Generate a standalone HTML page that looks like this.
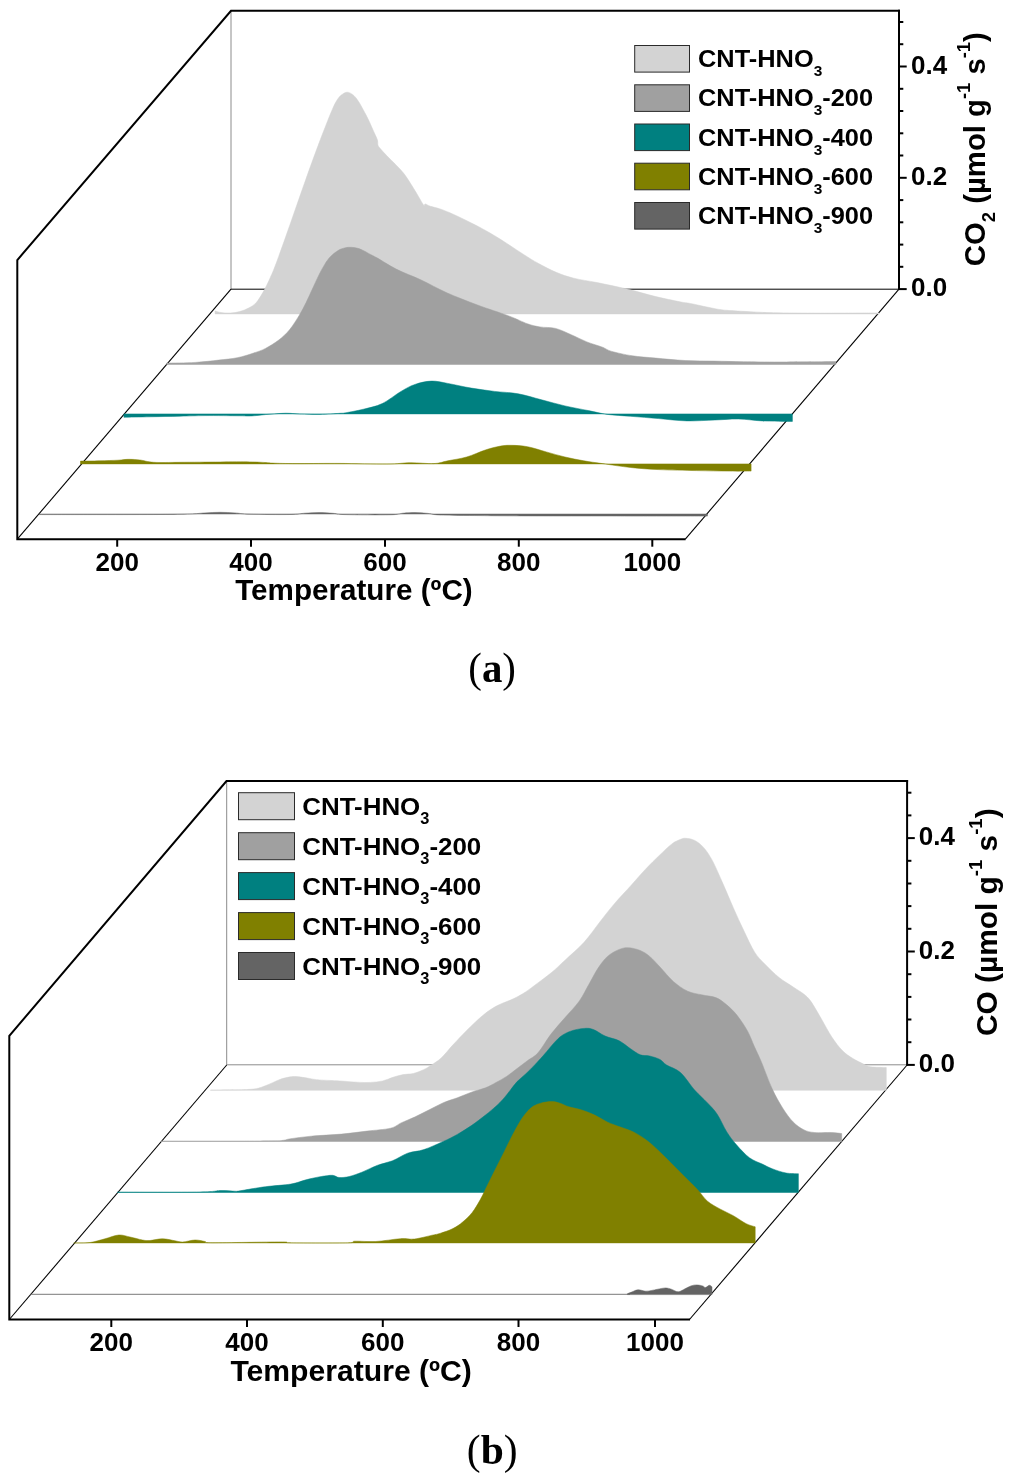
<!DOCTYPE html>
<html><head><meta charset="utf-8"><title>Figure</title>
<style>html,body{margin:0;padding:0;background:#fff}svg{display:block}</style></head>
<body><svg width="1024" height="1482" viewBox="0 0 1024 1482">
<rect width="1024" height="1482" fill="#fff"/>
<g id="panelA">
<line x1="231" y1="10.8" x2="231" y2="289.2" stroke="#8c8c8c" stroke-width="1"/>
<line x1="231" y1="289.2" x2="899" y2="289.2" stroke="#000" stroke-width="1"/>
<line x1="231" y1="289.2" x2="17.3" y2="539.2" stroke="#000" stroke-width="1.1"/>
<line x1="899" y1="289.2" x2="685.3" y2="539.2" stroke="#000" stroke-width="1.1"/>
<path d="M215.1 313.9 L215.1 310.9C216.1 311.2 218.4 312.1 220.9 312.5C223.4 312.9 227.2 313.1 230.3 313.0C233.4 312.9 236.6 312.5 239.7 311.6C242.8 310.7 246.4 309.3 249.1 307.8C251.8 306.3 253.8 305.3 256.1 302.7C258.4 300.1 260.8 296.2 263.1 292.1C265.4 288.0 267.8 283.3 270.1 278.0C272.5 272.7 273.6 270.2 277.2 260.5C280.8 250.8 286.9 233.4 291.6 220.0C296.3 206.6 301.2 192.4 305.6 180.0C310.0 167.6 314.7 154.7 318.1 145.6C321.5 136.5 323.5 131.3 325.9 125.3C328.2 119.3 330.4 113.9 332.2 109.7C334.0 105.5 335.3 102.8 336.9 100.3C338.5 97.8 339.9 96.1 341.6 94.8C343.3 93.5 345.2 92.3 347.0 92.2C348.8 92.1 350.8 93.2 352.5 94.4C354.2 95.6 355.6 97.3 357.2 99.5C358.8 101.7 360.1 104.0 361.9 107.3C363.7 110.6 366.0 114.8 368.1 119.1C370.2 123.4 372.8 129.6 374.4 133.1C376.0 136.6 376.9 138.2 377.5 140.2C378.1 142.1 377.5 143.5 377.9 144.8C378.3 146.1 378.3 146.2 379.8 148.0C381.3 149.8 384.1 152.9 386.9 155.8C389.6 158.7 393.4 162.2 396.3 165.2C399.2 168.2 401.8 170.8 404.1 173.8C406.4 176.8 408.2 179.8 410.3 183.1C412.4 186.3 414.4 189.7 416.6 193.3C418.8 197.0 422.2 203.2 423.6 205.0C425.0 206.8 424.0 203.7 425.2 203.9C426.4 204.1 428.1 205.5 430.6 206.3C433.1 207.1 436.8 207.8 440.0 208.9C443.2 210.0 446.1 211.1 450.0 212.8C453.9 214.5 459.0 216.9 463.7 219.2C468.4 221.5 473.1 223.8 478.3 226.5C483.5 229.2 489.4 232.6 494.6 235.7C499.8 238.8 504.4 241.8 509.3 245.0C514.2 248.2 519.1 251.6 524.0 254.7C528.9 257.8 533.2 260.6 538.6 263.5C544.0 266.4 550.3 269.9 556.2 272.3C562.1 274.8 567.0 276.5 573.8 278.2C580.6 279.9 588.3 280.8 597.2 282.6C606.1 284.4 617.2 286.7 627.0 289.0C636.8 291.3 647.0 294.5 655.8 296.6C664.6 298.7 674.0 300.6 680.0 301.8C686.0 303.0 687.8 302.9 691.7 303.7C695.6 304.4 699.5 305.5 703.4 306.3C707.3 307.1 711.3 308.0 715.2 308.7C719.1 309.4 721.0 309.8 726.9 310.3C732.8 310.8 742.5 311.3 750.3 311.7C758.1 312.1 762.0 312.5 773.7 312.7C785.4 312.9 803.0 313.1 820.6 313.1C838.2 313.1 869.4 312.9 879.2 312.9L879.2 313.9 Z" fill="#d3d3d3" stroke="#d3d3d3" stroke-width="0.5" stroke-linejoin="round"/>
<path d="M166.6 364.5 L166.6 363.1C171.4 363.0 186.5 362.9 195.2 362.4C203.9 361.9 211.6 360.9 218.6 360.1C225.6 359.3 231.5 358.9 237.3 357.7C243.2 356.5 249.0 354.6 253.7 353.0C258.4 351.4 261.3 350.6 265.5 348.4C269.7 346.2 274.8 343.1 278.8 340.0C282.8 336.9 286.1 333.9 289.5 329.8C292.9 325.7 296.5 319.8 299.3 315.2C302.1 310.6 304.0 306.7 306.1 302.5C308.2 298.3 309.9 294.4 312.0 289.8C314.1 285.2 316.7 279.4 318.8 275.2C320.9 271.0 322.8 267.5 324.7 264.4C326.6 261.3 328.2 259.0 330.5 256.6C332.8 254.3 335.9 251.8 338.4 250.3C340.8 248.8 343.1 248.3 345.2 247.8C347.3 247.3 349.0 247.2 351.1 247.3C353.2 247.4 355.6 247.7 357.9 248.3C360.2 249.0 362.7 250.2 364.7 251.2C366.7 252.2 367.9 253.0 370.0 254.2C372.1 255.3 373.1 255.6 377.5 258.1C381.9 260.6 389.0 265.5 396.2 269.1C403.5 272.8 412.9 276.1 421.2 280.0C429.6 283.9 436.9 288.3 446.2 292.5C455.6 296.7 467.1 301.1 477.5 305.0C487.9 308.9 500.4 312.8 508.8 315.9C517.1 319.0 522.3 321.9 527.5 323.8C532.7 325.6 535.3 326.1 540.0 326.9C544.7 327.7 550.4 327.1 555.6 328.4C560.8 329.7 566.0 332.4 571.2 334.7C576.5 336.9 581.7 339.8 586.9 341.9C592.1 344.0 598.4 345.6 602.5 347.2C606.6 348.8 606.8 350.0 611.8 351.4C616.8 352.8 625.1 354.7 632.4 355.8C639.7 356.9 647.0 357.3 655.8 358.1C664.6 358.9 675.3 360.0 685.1 360.5C694.9 361.0 704.6 360.9 714.4 361.1C724.2 361.3 732.8 361.6 743.7 361.7C754.6 361.8 764.6 362.0 780.0 362.0C795.4 362.0 826.5 361.7 835.8 361.6L835.8 364.5 Z" fill="#a0a0a0" stroke="#a0a0a0" stroke-width="0.5" stroke-linejoin="round"/>
<path d="M123.9 413.9 L123.9 417.3C128.2 417.2 140.7 417.0 150.0 416.8C159.3 416.6 170.8 416.4 180.0 416.2C189.2 416.0 195.0 415.7 205.0 415.6C215.0 415.5 232.2 415.8 240.0 415.8C247.8 415.9 247.0 416.2 252.0 415.9C257.0 415.6 264.3 414.6 270.0 414.2C275.7 413.8 281.0 413.2 286.0 413.2C291.0 413.2 294.3 413.8 300.0 414.0C305.7 414.2 313.3 414.5 320.0 414.4C326.7 414.3 335.6 413.6 340.0 413.3C344.4 413.0 342.2 413.4 346.1 412.7C350.0 412.0 357.4 410.7 363.4 409.2C369.4 407.7 375.9 406.6 382.2 403.6C388.5 400.6 395.5 394.6 401.0 391.4C406.5 388.2 409.9 386.1 415.0 384.4C420.1 382.7 425.9 381.3 431.4 381.1C436.9 380.9 441.1 382.2 447.8 383.4C454.5 384.6 463.5 386.8 471.3 388.1C479.1 389.4 486.9 390.4 494.7 391.4C502.5 392.3 510.4 392.4 518.2 393.8C526.0 395.2 533.8 397.8 541.6 399.8C549.4 401.8 557.2 404.1 565.0 405.9C572.8 407.7 581.5 409.2 588.5 410.6C595.5 412.0 600.2 413.4 607.2 414.4C614.2 415.3 622.1 415.6 630.7 416.3C639.3 417.0 649.4 417.8 658.8 418.6C668.2 419.4 677.5 420.7 686.9 420.9C696.3 421.1 706.4 420.3 715.0 420.0C723.6 419.7 730.7 418.9 738.5 419.0C746.3 419.1 753.0 420.5 762.0 420.9C771.0 421.3 787.3 421.3 792.4 421.4L792.4 413.9 Z" fill="#008080" stroke="#008080" stroke-width="0.5" stroke-linejoin="round"/>
<path d="M80.5 463.9 L80.5 461.1C83.8 461.1 93.8 461.0 100.0 460.8C106.2 460.6 113.2 460.4 118.0 460.2C122.8 459.9 125.3 459.3 129.0 459.3C132.7 459.3 135.9 459.5 140.0 460.0C144.1 460.5 146.9 461.9 153.6 462.3C160.3 462.7 168.9 462.4 180.0 462.3C191.1 462.2 208.3 462.1 220.0 462.0C231.7 461.9 242.5 461.8 250.0 461.9C257.5 462.0 260.8 462.3 265.0 462.5C269.2 462.7 269.2 463.0 275.0 463.2C280.8 463.4 289.2 463.6 300.0 463.6C310.8 463.6 325.5 463.3 340.0 463.4C354.5 463.5 375.2 464.2 386.9 464.1C398.6 464.0 402.5 462.8 410.3 462.7C418.1 462.6 427.6 463.9 433.8 463.6C440.1 463.3 442.3 461.9 447.8 460.8C453.3 459.7 460.4 458.8 466.6 457.0C472.9 455.2 479.8 451.8 485.3 450.0C490.8 448.2 495.1 447.1 499.4 446.3C503.7 445.5 506.4 445.2 511.1 445.3C515.8 445.4 521.6 445.6 527.5 446.7C533.4 447.8 540.0 450.2 546.3 451.9C552.5 453.6 558.8 455.5 565.0 457.0C571.2 458.5 577.5 459.7 583.8 460.8C590.0 461.9 594.7 462.5 602.5 463.6C610.3 464.7 621.3 466.5 630.7 467.5C640.1 468.5 647.9 469.1 658.8 469.6C669.7 470.1 684.6 470.4 696.3 470.6C708.0 470.9 720.0 471.0 729.1 471.1C738.2 471.2 747.4 471.1 751.1 471.1L751.1 463.9 Z" fill="#808000" stroke="#808000" stroke-width="0.5" stroke-linejoin="round"/>
<path d="M39.3 514.0 L39.3 514.6C49.4 514.6 79.9 514.6 100.0 514.6C120.1 514.6 145.0 514.6 160.0 514.5C175.0 514.4 182.5 514.3 190.0 514.0C197.5 513.7 200.0 513.2 205.0 512.9C210.0 512.6 215.0 512.3 220.0 512.3C225.0 512.3 230.0 512.6 235.0 512.9C240.0 513.2 240.8 513.9 250.0 514.2C259.2 514.5 280.8 514.7 290.0 514.5C299.2 514.3 300.2 513.5 305.0 513.2C309.8 512.9 314.3 512.6 319.0 512.6C323.7 512.6 328.7 513.0 333.0 513.3C337.3 513.6 335.5 514.4 345.0 514.6C354.5 514.9 380.3 515.0 390.0 514.8C399.7 514.6 398.8 513.6 403.0 513.2C407.2 512.8 410.8 512.6 415.0 512.6C419.2 512.6 423.8 513.0 428.0 513.4C432.2 513.8 431.3 514.6 440.0 515.0C448.7 515.4 466.7 515.5 480.0 515.6C493.3 515.8 500.0 515.8 520.0 515.9C540.0 516.0 580.0 516.0 600.0 516.0C620.0 516.0 622.1 516.1 640.0 516.1C657.9 516.1 696.2 516.1 707.4 516.1L707.4 514.0 Z" fill="#646464" stroke="#646464" stroke-width="0.5" stroke-linejoin="round"/>
<polyline points="900,10.8 231,10.8 17.3,260 17.3,539.2 685.6,539.2" fill="none" stroke="#000" stroke-width="2" stroke-linejoin="miter"/>
<line x1="899" y1="9.8" x2="899" y2="289.8" stroke="#000" stroke-width="2"/>
<line x1="899.0" y1="289.1" x2="906.7" y2="289.1" stroke="#000" stroke-width="2"/>
<text transform="translate(911.0,296.4) scale(1.040,1)" font-size="25" font-family="Liberation Sans, Arial, sans-serif" font-weight="bold">0.0</text>
<line x1="899.0" y1="266.8" x2="903.3" y2="266.8" stroke="#000" stroke-width="2"/>
<line x1="899.0" y1="244.6" x2="903.3" y2="244.6" stroke="#000" stroke-width="2"/>
<line x1="899.0" y1="222.3" x2="903.3" y2="222.3" stroke="#000" stroke-width="2"/>
<line x1="899.0" y1="200.1" x2="903.3" y2="200.1" stroke="#000" stroke-width="2"/>
<line x1="899.0" y1="177.8" x2="906.7" y2="177.8" stroke="#000" stroke-width="2"/>
<text transform="translate(911.0,185.1) scale(1.040,1)" font-size="25" font-family="Liberation Sans, Arial, sans-serif" font-weight="bold">0.2</text>
<line x1="899.0" y1="155.5" x2="903.3" y2="155.5" stroke="#000" stroke-width="2"/>
<line x1="899.0" y1="133.3" x2="903.3" y2="133.3" stroke="#000" stroke-width="2"/>
<line x1="899.0" y1="111.0" x2="903.3" y2="111.0" stroke="#000" stroke-width="2"/>
<line x1="899.0" y1="88.8" x2="903.3" y2="88.8" stroke="#000" stroke-width="2"/>
<line x1="899.0" y1="66.5" x2="906.7" y2="66.5" stroke="#000" stroke-width="2"/>
<text transform="translate(911.0,73.8) scale(1.040,1)" font-size="25" font-family="Liberation Sans, Arial, sans-serif" font-weight="bold">0.4</text>
<line x1="899.0" y1="44.2" x2="903.3" y2="44.2" stroke="#000" stroke-width="2"/>
<line x1="899.0" y1="22.0" x2="903.3" y2="22.0" stroke="#000" stroke-width="2"/>
<line x1="117.2" y1="539.2" x2="117.2" y2="546.7" stroke="#000" stroke-width="2"/>
<text transform="translate(117.2,570.5) scale(1.040,1)" font-size="25" text-anchor="middle" font-family="Liberation Sans, Arial, sans-serif" font-weight="bold">200</text>
<line x1="251.0" y1="539.2" x2="251.0" y2="546.7" stroke="#000" stroke-width="2"/>
<text transform="translate(251.0,570.5) scale(1.040,1)" font-size="25" text-anchor="middle" font-family="Liberation Sans, Arial, sans-serif" font-weight="bold">400</text>
<line x1="385.0" y1="539.2" x2="385.0" y2="546.7" stroke="#000" stroke-width="2"/>
<text transform="translate(385.0,570.5) scale(1.040,1)" font-size="25" text-anchor="middle" font-family="Liberation Sans, Arial, sans-serif" font-weight="bold">600</text>
<line x1="518.8" y1="539.2" x2="518.8" y2="546.7" stroke="#000" stroke-width="2"/>
<text transform="translate(518.8,570.5) scale(1.040,1)" font-size="25" text-anchor="middle" font-family="Liberation Sans, Arial, sans-serif" font-weight="bold">800</text>
<line x1="652.3" y1="539.2" x2="652.3" y2="546.7" stroke="#000" stroke-width="2"/>
<text transform="translate(652.3,570.5) scale(1.040,1)" font-size="25" text-anchor="middle" font-family="Liberation Sans, Arial, sans-serif" font-weight="bold">1000</text>
<text x="235.2" y="600.3" font-size="29" font-family="Liberation Sans, Arial, sans-serif" font-weight="bold" textLength="237.5" lengthAdjust="spacingAndGlyphs">Temperature (ºC)</text>
<rect x="634.7" y="45.5" width="54.8" height="26.6" fill="#d3d3d3" stroke="#2a2a2a" stroke-width="1"/>
<text transform="translate(698.0,67.1) scale(1.045,1)" font-size="24.3" font-family="Liberation Sans, Arial, sans-serif" font-weight="bold">CNT-HNO<tspan font-size="14.8" dy="9.0">3</tspan></text>
<rect x="634.7" y="84.8" width="54.8" height="26.6" fill="#a0a0a0" stroke="#2a2a2a" stroke-width="1"/>
<text transform="translate(698.0,106.3) scale(1.045,1)" font-size="24.3" font-family="Liberation Sans, Arial, sans-serif" font-weight="bold">CNT-HNO<tspan font-size="14.8" dy="9.0">3</tspan><tspan dy="-9.0">-200</tspan></text>
<rect x="634.7" y="124.0" width="54.8" height="26.6" fill="#008080" stroke="#2a2a2a" stroke-width="1"/>
<text transform="translate(698.0,145.6) scale(1.045,1)" font-size="24.3" font-family="Liberation Sans, Arial, sans-serif" font-weight="bold">CNT-HNO<tspan font-size="14.8" dy="9.0">3</tspan><tspan dy="-9.0">-400</tspan></text>
<rect x="634.7" y="163.2" width="54.8" height="26.6" fill="#808000" stroke="#2a2a2a" stroke-width="1"/>
<text transform="translate(698.0,184.8) scale(1.045,1)" font-size="24.3" font-family="Liberation Sans, Arial, sans-serif" font-weight="bold">CNT-HNO<tspan font-size="14.8" dy="9.0">3</tspan><tspan dy="-9.0">-600</tspan></text>
<rect x="634.7" y="202.5" width="54.8" height="26.6" fill="#646464" stroke="#2a2a2a" stroke-width="1"/>
<text transform="translate(698.0,224.1) scale(1.045,1)" font-size="24.3" font-family="Liberation Sans, Arial, sans-serif" font-weight="bold">CNT-HNO<tspan font-size="14.8" dy="9.0">3</tspan><tspan dy="-9.0">-900</tspan></text>
<text transform="translate(985.0,266.2) rotate(-90) scale(0.995,1)" font-size="29.5" font-family="Liberation Sans, Arial, sans-serif" font-weight="bold">CO<tspan font-size="18.4" dy="10">2</tspan><tspan dy="-10"> (µmol g</tspan><tspan font-size="18.4" dy="-15.2">-1</tspan><tspan dy="15.2"> s</tspan><tspan font-size="18.4" dy="-15.2">-1</tspan><tspan dy="15.2">)</tspan></text>
</g>
<g id="panelB">
<line x1="226.7" y1="781" x2="226.7" y2="1065" stroke="#8c8c8c" stroke-width="1"/>
<line x1="226.7" y1="1064.8" x2="907.1" y2="1064.8" stroke="#8c8c8c" stroke-width="1"/>
<line x1="226.7" y1="1065" x2="9.3" y2="1319.5" stroke="#000" stroke-width="1.1"/>
<line x1="907.1" y1="1065" x2="689.5" y2="1319.5" stroke="#000" stroke-width="1.1"/>
<path d="M210.5 1090.3 L210.5 1090.0C217.2 1089.9 241.6 1090.0 250.8 1089.3C260.1 1088.5 261.4 1087.1 266.0 1085.5C270.6 1083.9 274.9 1081.3 278.7 1079.9C282.5 1078.5 285.9 1077.6 288.9 1077.1C291.9 1076.5 293.1 1076.4 296.5 1076.6C299.9 1076.8 305.4 1077.9 309.2 1078.4C313.0 1079.0 314.3 1079.5 319.4 1079.9C324.5 1080.3 333.4 1080.5 339.7 1080.9C346.0 1081.3 352.3 1082.0 357.4 1082.2C362.5 1082.5 365.9 1082.6 370.1 1082.4C374.3 1082.2 379.0 1081.8 382.8 1080.9C386.6 1080.1 389.6 1078.3 393.0 1077.3C396.4 1076.2 399.8 1075.2 403.2 1074.6C406.6 1074.0 409.9 1074.3 413.3 1073.5C416.7 1072.7 420.5 1071.1 423.5 1069.7C426.5 1068.3 428.2 1067.2 431.1 1065.2C434.1 1063.2 437.5 1061.4 441.2 1058.0C444.9 1054.6 448.9 1049.2 453.2 1044.6C457.5 1040.0 461.9 1035.1 466.9 1030.2C471.9 1025.3 478.2 1019.1 483.3 1015.0C488.4 1010.9 492.2 1008.3 497.3 1005.6C502.4 1002.9 509.1 1000.9 513.8 998.6C518.5 996.3 521.6 994.5 525.5 992.0C529.4 989.5 532.9 986.6 537.2 983.4C541.5 980.2 546.6 976.7 551.2 972.8C555.9 968.9 559.8 965.0 565.3 959.9C570.8 954.8 578.2 948.6 584.0 942.3C589.8 936.0 594.8 928.3 599.8 922.0C604.8 915.7 608.5 910.6 613.8 904.4C619.1 898.2 626.1 890.9 631.4 885.0C636.7 879.1 640.8 874.2 645.5 869.2C650.2 864.2 655.1 859.4 659.5 855.2C663.9 851.0 668.4 846.5 671.9 843.9C675.4 841.2 678.4 840.2 680.7 839.3C683.0 838.4 683.6 838.1 685.9 838.3C688.2 838.5 691.8 838.9 694.7 840.4C697.6 841.9 700.6 844.1 703.5 847.4C706.4 850.7 709.1 854.4 712.3 860.4C715.5 866.4 719.3 875.4 722.8 883.3C726.3 891.2 729.9 900.0 733.4 907.9C736.9 915.8 740.4 923.5 743.9 930.8C747.4 938.1 751.0 946.3 754.5 951.9C758.0 957.5 760.9 959.9 765.0 964.2C769.1 968.5 774.4 973.7 779.1 977.5C783.8 981.3 789.1 984.2 793.2 987.0C797.3 989.8 800.8 991.6 803.7 994.0C806.6 996.4 807.8 997.0 810.7 1001.1C813.6 1005.2 817.8 1012.7 821.3 1018.7C824.8 1024.7 828.3 1031.7 831.8 1037.0C835.3 1042.3 838.9 1047.0 842.4 1050.6C845.9 1054.2 849.4 1056.3 852.9 1058.5C856.4 1060.7 860.6 1062.6 863.5 1064.0C866.4 1065.4 866.7 1066.2 870.5 1066.8C874.3 1067.4 883.7 1067.4 886.3 1067.5L886.3 1090.3 Z" fill="#d3d3d3" stroke="#d3d3d3" stroke-width="0.5" stroke-linejoin="round"/>
<path d="M161.2 1141.5 L161.2 1141.0C167.7 1141.0 186.9 1141.0 200.0 1141.0C213.1 1141.0 227.5 1141.0 240.0 1141.0C252.5 1141.0 267.8 1140.9 275.0 1140.8C282.2 1140.7 280.6 1140.6 283.2 1140.3C285.8 1140.0 286.1 1139.4 290.8 1138.7C295.5 1138.0 302.6 1137.0 311.1 1136.2C319.6 1135.4 332.3 1134.9 341.6 1134.1C350.9 1133.2 358.9 1132.1 367.0 1131.1C375.1 1130.1 384.8 1129.6 390.5 1128.2C396.2 1126.8 397.0 1124.8 401.1 1122.9C405.2 1121.0 410.5 1119.0 415.2 1116.8C419.9 1114.6 424.5 1112.1 429.2 1109.8C433.9 1107.5 438.6 1104.7 443.3 1102.7C448.0 1100.7 452.6 1099.5 457.3 1097.8C462.0 1096.0 466.7 1093.9 471.4 1092.2C476.1 1090.5 481.4 1089.4 485.5 1087.8C489.6 1086.2 492.5 1084.4 496.0 1082.5C499.5 1080.6 503.1 1078.7 506.6 1076.4C510.1 1074.1 513.6 1071.2 517.1 1068.5C520.6 1065.8 524.2 1063.2 527.7 1060.5C531.2 1057.8 534.3 1057.1 538.2 1052.6C542.1 1048.1 546.7 1039.6 551.2 1033.8C555.8 1027.9 560.6 1022.8 565.3 1017.3C570.0 1011.8 575.5 1006.4 579.4 1000.9C583.3 995.4 585.6 990.0 588.8 984.5C591.9 979.0 595.0 972.8 598.1 968.1C601.2 963.4 604.0 959.5 607.5 956.4C611.0 953.3 615.7 950.8 619.2 949.4C622.7 948.0 625.1 947.5 628.6 947.7C632.1 947.9 636.8 949.0 640.3 950.5C643.8 952.0 646.4 953.6 649.7 956.4C653.0 959.1 656.0 962.8 660.0 967.0C664.0 971.2 669.0 977.7 673.6 981.7C678.2 985.7 683.0 989.0 687.7 991.2C692.4 993.4 697.0 993.7 701.7 994.8C706.4 995.9 711.7 996.0 715.8 997.6C719.9 999.2 722.9 1001.7 726.4 1004.6C729.9 1007.5 733.4 1010.7 736.9 1015.1C740.4 1019.5 744.6 1025.7 747.5 1031.0C750.4 1036.3 752.2 1041.6 754.5 1046.8C756.8 1052.0 758.6 1055.2 761.5 1062.2C764.4 1069.2 768.6 1081.0 772.1 1088.6C775.6 1096.2 779.1 1102.3 782.6 1107.9C786.1 1113.5 789.7 1118.4 793.2 1122.0C796.7 1125.6 800.2 1128.0 803.7 1129.7C807.2 1131.5 809.6 1132.0 814.3 1132.5C819.0 1133.0 827.2 1132.3 831.8 1132.5C836.4 1132.7 840.1 1133.4 841.7 1133.6L841.7 1141.5 Z" fill="#a0a0a0" stroke="#a0a0a0" stroke-width="0.5" stroke-linejoin="round"/>
<path d="M117.3 1192.5 L117.3 1192.0C131.1 1192.0 182.7 1192.2 200.0 1191.9C217.3 1191.7 215.2 1190.6 221.0 1190.5C226.8 1190.4 231.8 1191.2 235.0 1191.2C238.2 1191.2 234.9 1191.5 240.0 1190.8C245.1 1190.0 256.9 1187.8 265.4 1186.7C273.9 1185.6 284.0 1185.2 290.8 1184.1C297.6 1182.9 300.9 1181.1 306.0 1179.8C311.1 1178.5 316.9 1177.2 321.3 1176.5C325.8 1175.8 329.8 1175.1 332.7 1175.3C335.6 1175.5 336.2 1177.3 339.0 1177.5C341.8 1177.7 345.4 1177.4 349.2 1176.5C353.0 1175.6 357.2 1174.0 361.9 1172.2C366.5 1170.4 372.0 1167.3 377.1 1165.4C382.2 1163.5 387.3 1162.8 392.4 1160.8C397.5 1158.8 402.4 1155.1 407.6 1153.2C412.9 1151.3 417.9 1151.6 423.9 1149.6C429.8 1147.6 437.7 1143.9 443.3 1141.4C448.9 1138.9 452.6 1137.0 457.3 1134.4C462.0 1131.8 466.7 1128.8 471.4 1125.6C476.1 1122.4 481.4 1118.2 485.5 1115.0C489.6 1111.8 493.1 1108.8 496.0 1106.2C498.9 1103.6 500.6 1101.8 503.0 1099.2C505.4 1096.6 507.8 1093.3 510.1 1090.4C512.5 1087.5 514.5 1084.4 517.1 1081.6C519.7 1078.8 523.0 1076.5 525.9 1073.7C528.8 1070.9 531.8 1068.0 534.7 1064.9C537.6 1061.8 539.6 1059.7 543.5 1055.3C547.4 1050.9 553.9 1042.4 558.3 1038.4C562.7 1034.4 565.7 1033.1 570.0 1031.4C574.3 1029.7 580.2 1028.7 584.1 1028.4C588.0 1028.1 589.9 1028.2 593.4 1029.5C596.9 1030.8 600.9 1034.2 605.2 1036.1C609.5 1038.0 614.9 1038.6 619.2 1040.8C623.5 1043.0 627.4 1046.7 630.9 1049.0C634.4 1051.3 637.2 1053.6 640.3 1054.8C643.4 1056.0 646.4 1055.2 649.7 1056.0C653.0 1056.8 657.2 1058.0 660.0 1059.5C662.8 1061.0 663.1 1062.8 666.6 1065.0C670.1 1067.2 676.0 1068.5 680.7 1072.7C685.4 1076.9 690.1 1085.0 694.6 1090.0C699.1 1095.0 703.7 1098.9 707.5 1102.9C711.3 1106.9 714.0 1109.4 717.2 1114.2C720.4 1119.0 723.6 1126.8 726.8 1131.9C730.0 1137.0 732.7 1140.5 736.5 1144.8C740.3 1149.1 745.1 1154.5 749.4 1157.7C753.7 1160.9 758.5 1162.3 762.3 1164.1C766.1 1165.9 768.1 1167.2 772.1 1168.7C776.1 1170.2 781.7 1172.2 786.1 1173.0C790.5 1173.8 796.4 1173.6 798.4 1173.7L798.4 1192.5 Z" fill="#008080" stroke="#008080" stroke-width="0.5" stroke-linejoin="round"/>
<path d="M73.8 1242.9 L73.8 1243.0C76.5 1242.9 84.8 1243.2 90.0 1242.5C95.2 1241.8 100.2 1240.0 105.0 1238.8C109.8 1237.5 114.6 1235.3 118.8 1235.0C122.9 1234.7 126.0 1236.2 130.0 1237.0C134.0 1237.8 139.2 1239.4 142.5 1240.0C145.8 1240.6 146.7 1240.7 150.0 1240.5C153.3 1240.3 158.3 1238.7 162.5 1238.8C166.7 1238.8 171.7 1240.2 175.0 1240.8C178.3 1241.3 179.2 1242.1 182.5 1242.0C185.8 1241.9 191.2 1240.1 195.0 1240.0C198.8 1239.9 202.1 1241.0 205.0 1241.5C207.9 1242.0 199.8 1242.7 212.5 1242.8C225.2 1242.8 267.8 1241.9 280.9 1241.9C294.0 1241.9 280.3 1242.7 291.4 1242.9C302.5 1243.1 337.1 1243.2 347.7 1242.9C358.2 1242.6 350.0 1241.4 354.7 1241.2C359.4 1241.0 368.2 1241.9 375.8 1241.5C383.4 1241.1 393.9 1239.1 400.4 1238.7C406.8 1238.3 409.2 1239.6 414.5 1239.0C419.8 1238.4 427.9 1236.1 432.1 1235.2C436.4 1234.3 436.5 1234.5 440.0 1233.4C443.5 1232.3 449.1 1230.5 452.9 1228.6C456.7 1226.7 459.4 1224.8 462.6 1222.1C465.8 1219.4 469.2 1216.2 472.2 1212.5C475.1 1208.8 477.6 1204.4 480.3 1199.6C483.0 1194.8 485.6 1188.9 488.3 1183.5C491.0 1178.1 493.7 1172.7 496.4 1167.3C499.1 1161.9 501.8 1156.6 504.5 1151.2C507.2 1145.8 509.8 1140.2 512.5 1135.1C515.2 1130.0 518.2 1124.5 520.6 1120.6C523.0 1116.7 524.9 1114.3 527.0 1111.9C529.1 1109.5 531.1 1107.6 533.5 1106.1C535.9 1104.6 538.5 1103.7 541.5 1102.9C544.5 1102.2 548.2 1101.6 551.2 1101.6C554.2 1101.6 556.2 1102.0 559.2 1102.9C562.2 1103.8 565.1 1105.6 568.9 1106.8C572.7 1108.0 577.5 1108.6 581.8 1110.0C586.1 1111.4 590.4 1113.1 594.7 1115.1C599.0 1117.1 603.3 1120.2 607.6 1122.2C611.9 1124.2 616.2 1125.5 620.5 1127.1C624.8 1128.7 629.1 1129.8 633.4 1131.9C637.7 1134.1 642.0 1136.8 646.3 1140.0C650.6 1143.2 654.8 1147.2 659.1 1151.2C663.4 1155.2 667.7 1159.8 672.0 1164.1C676.3 1168.4 680.6 1172.7 684.9 1177.0C689.2 1181.3 694.0 1185.9 697.8 1189.9C701.6 1193.9 703.7 1198.0 707.5 1201.2C711.3 1204.4 716.1 1206.8 720.4 1209.2C724.7 1211.6 729.0 1213.3 733.3 1215.7C737.6 1218.1 742.6 1221.9 746.2 1223.7C749.9 1225.5 753.7 1226.3 755.2 1226.8L755.2 1242.9 Z" fill="#808000" stroke="#808000" stroke-width="0.5" stroke-linejoin="round"/>
<line x1="30.5" y1="1294.3" x2="630" y2="1294.3" stroke="#7a7a7a" stroke-width="1"/>
<path d="M627.4 1294.6 L627.4 1293.7C628.2 1293.4 630.5 1292.5 632.3 1291.8C634.1 1291.1 635.8 1289.9 638.1 1289.8C640.4 1289.7 643.6 1291.1 645.9 1291.2C648.2 1291.3 649.8 1290.7 651.8 1290.4C653.8 1290.1 655.4 1289.6 657.7 1289.2C660.0 1288.8 663.2 1287.9 665.5 1287.9C667.8 1287.9 669.2 1288.6 671.3 1289.2C673.4 1289.8 675.9 1291.9 678.2 1291.8C680.5 1291.7 682.9 1289.8 685.0 1288.8C687.1 1287.8 688.9 1286.6 690.9 1285.9C692.9 1285.2 694.8 1284.9 696.7 1284.9C698.7 1284.9 701.1 1285.5 702.6 1285.9C704.1 1286.3 704.4 1287.6 705.5 1287.5C706.6 1287.4 708.3 1285.4 709.4 1285.3C710.5 1285.2 711.6 1286.6 712.0 1286.9L712.0 1294.6 Z" fill="#646464" stroke="#646464" stroke-width="0.5" stroke-linejoin="round"/>
<polyline points="908.1,781.1 226.5,781.1 9.3,1035.8 9.3,1319.5 690,1319.5" fill="none" stroke="#000" stroke-width="2" stroke-linejoin="miter"/>
<line x1="907.1" y1="780.1" x2="907.1" y2="1065.8" stroke="#000" stroke-width="2"/>
<line x1="907.1" y1="1064.9" x2="914.8" y2="1064.9" stroke="#000" stroke-width="2"/>
<text transform="translate(918.7,1072.2) scale(1.040,1)" font-size="25" font-family="Liberation Sans, Arial, sans-serif" font-weight="bold">0.0</text>
<line x1="907.1" y1="1042.2" x2="911.4" y2="1042.2" stroke="#000" stroke-width="2"/>
<line x1="907.1" y1="1019.5" x2="911.4" y2="1019.5" stroke="#000" stroke-width="2"/>
<line x1="907.1" y1="996.9" x2="911.4" y2="996.9" stroke="#000" stroke-width="2"/>
<line x1="907.1" y1="974.2" x2="911.4" y2="974.2" stroke="#000" stroke-width="2"/>
<line x1="907.1" y1="951.5" x2="914.8" y2="951.5" stroke="#000" stroke-width="2"/>
<text transform="translate(918.7,958.8) scale(1.040,1)" font-size="25" font-family="Liberation Sans, Arial, sans-serif" font-weight="bold">0.2</text>
<line x1="907.1" y1="928.8" x2="911.4" y2="928.8" stroke="#000" stroke-width="2"/>
<line x1="907.1" y1="906.1" x2="911.4" y2="906.1" stroke="#000" stroke-width="2"/>
<line x1="907.1" y1="883.5" x2="911.4" y2="883.5" stroke="#000" stroke-width="2"/>
<line x1="907.1" y1="860.8" x2="911.4" y2="860.8" stroke="#000" stroke-width="2"/>
<line x1="907.1" y1="838.1" x2="914.8" y2="838.1" stroke="#000" stroke-width="2"/>
<text transform="translate(918.7,845.4) scale(1.040,1)" font-size="25" font-family="Liberation Sans, Arial, sans-serif" font-weight="bold">0.4</text>
<line x1="907.1" y1="815.4" x2="911.4" y2="815.4" stroke="#000" stroke-width="2"/>
<line x1="907.1" y1="792.7" x2="911.4" y2="792.7" stroke="#000" stroke-width="2"/>
<line x1="111.3" y1="1319.5" x2="111.3" y2="1327.0" stroke="#000" stroke-width="2"/>
<text transform="translate(111.3,1351.2) scale(1.040,1)" font-size="25" text-anchor="middle" font-family="Liberation Sans, Arial, sans-serif" font-weight="bold">200</text>
<line x1="247.0" y1="1319.5" x2="247.0" y2="1327.0" stroke="#000" stroke-width="2"/>
<text transform="translate(247.0,1351.2) scale(1.040,1)" font-size="25" text-anchor="middle" font-family="Liberation Sans, Arial, sans-serif" font-weight="bold">400</text>
<line x1="382.8" y1="1319.5" x2="382.8" y2="1327.0" stroke="#000" stroke-width="2"/>
<text transform="translate(382.8,1351.2) scale(1.040,1)" font-size="25" text-anchor="middle" font-family="Liberation Sans, Arial, sans-serif" font-weight="bold">600</text>
<line x1="518.5" y1="1319.5" x2="518.5" y2="1327.0" stroke="#000" stroke-width="2"/>
<text transform="translate(518.5,1351.2) scale(1.040,1)" font-size="25" text-anchor="middle" font-family="Liberation Sans, Arial, sans-serif" font-weight="bold">800</text>
<line x1="655.0" y1="1319.5" x2="655.0" y2="1327.0" stroke="#000" stroke-width="2"/>
<text transform="translate(655.0,1351.2) scale(1.040,1)" font-size="25" text-anchor="middle" font-family="Liberation Sans, Arial, sans-serif" font-weight="bold">1000</text>
<text x="230.4" y="1381.3" font-size="29" font-family="Liberation Sans, Arial, sans-serif" font-weight="bold" textLength="241.5" lengthAdjust="spacingAndGlyphs">Temperature (ºC)</text>
<rect x="238.5" y="792.7" width="56.0" height="27.0" fill="#d3d3d3" stroke="#2a2a2a" stroke-width="1"/>
<text transform="translate(302.2,814.9) scale(1.050,1)" font-size="24.7" font-family="Liberation Sans, Arial, sans-serif" font-weight="bold">CNT-HNO<tspan font-size="15.6" dy="9.4">3</tspan></text>
<rect x="238.5" y="832.7" width="56.0" height="27.0" fill="#a0a0a0" stroke="#2a2a2a" stroke-width="1"/>
<text transform="translate(302.2,854.9) scale(1.050,1)" font-size="24.7" font-family="Liberation Sans, Arial, sans-serif" font-weight="bold">CNT-HNO<tspan font-size="15.6" dy="9.4">3</tspan><tspan dy="-9.4">-200</tspan></text>
<rect x="238.5" y="872.6" width="56.0" height="27.0" fill="#008080" stroke="#2a2a2a" stroke-width="1"/>
<text transform="translate(302.2,894.8) scale(1.050,1)" font-size="24.7" font-family="Liberation Sans, Arial, sans-serif" font-weight="bold">CNT-HNO<tspan font-size="15.6" dy="9.4">3</tspan><tspan dy="-9.4">-400</tspan></text>
<rect x="238.5" y="912.6" width="56.0" height="27.0" fill="#808000" stroke="#2a2a2a" stroke-width="1"/>
<text transform="translate(302.2,934.8) scale(1.050,1)" font-size="24.7" font-family="Liberation Sans, Arial, sans-serif" font-weight="bold">CNT-HNO<tspan font-size="15.6" dy="9.4">3</tspan><tspan dy="-9.4">-600</tspan></text>
<rect x="238.5" y="952.5" width="56.0" height="27.0" fill="#646464" stroke="#2a2a2a" stroke-width="1"/>
<text transform="translate(302.2,974.7) scale(1.050,1)" font-size="24.7" font-family="Liberation Sans, Arial, sans-serif" font-weight="bold">CNT-HNO<tspan font-size="15.6" dy="9.4">3</tspan><tspan dy="-9.4">-900</tspan></text>
<text transform="translate(997.2,1036.0) rotate(-90) scale(1.012,1)" font-size="29.5" font-family="Liberation Sans, Arial, sans-serif" font-weight="bold">CO (µmol g<tspan font-size="18.4" dy="-15.2">-1</tspan><tspan dy="15.2"> s</tspan><tspan font-size="18.4" dy="-15.2">-1</tspan><tspan dy="15.2">)</tspan></text>
</g>
<text transform="translate(492.1,682) scale(0.985,1)" text-anchor="middle" font-family="Liberation Serif, Times New Roman, serif" font-size="41.5">(<tspan font-weight="bold">a</tspan>)</text>
<text transform="translate(492.2,1464) scale(1.0,1)" text-anchor="middle" font-family="Liberation Serif, Times New Roman, serif" font-size="41.5">(<tspan font-weight="bold">b</tspan>)</text>
</svg></body></html>
